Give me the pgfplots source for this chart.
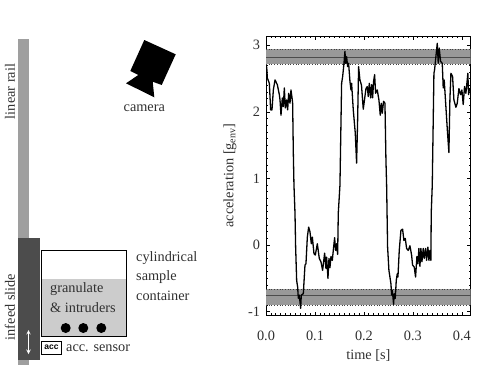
\documentclass[border=0pt]{standalone}
\usepackage{pgfplots}
\pgfplotsset{compat=1.18}
\usepackage{fontspec}
\setmainfont{Liberation Serif}
\setsansfont{Liberation Sans}
\definecolor{tx}{HTML}{303030}
\begin{document}
\fontsize{14.3}{16}\selectfont
\begin{tikzpicture}[x=1pt,y=1pt]
\path[use as bounding box] (0pt,0pt) rectangle (489pt,376pt);
% schematic on a full-canvas axis in pixel units
\begin{axis}[at={(0pt,0pt)},anchor=south west,width=489pt,height=376pt,scale only axis,
  xmin=0,xmax=489,ymin=0,ymax=376,y dir=reverse,hide axis,clip=false]
\fill[gray!75!white] (18,39) rectangle (29,365);
\fill[black!70] (18,238) rectangle (40,360);
\fill[black!20] (41,279) rectangle (126.5,336);
\draw[black,line width=0.9pt] (41,250.5) rectangle (126.5,336);
\fill (65.7,328) circle[radius=5];
\fill (83.3,328) circle[radius=5];
\fill (101.3,328) circle[radius=5];
\draw[white,line width=1pt,<->,>=stealth] (28.5,330) -- (28.5,354);
\draw[black,fill=white,line width=0.9pt] (41.5,341.5) rectangle (61.5,354);
\node[font=\sffamily\bfseries\fontsize{8.5}{9}\selectfont] at (51.5,347.5) {acc};
\fill (144.3,40) -- (175.7,54.3) -- (161.7,85) -- (152.7,81.7) -- (154.3,97.3) -- (126,83.3) -- (138.3,75) -- (130.3,71) -- cycle;
\node[text=tx] at (144.3,108.5) {camera};
\node[text=tx,anchor=west,inner sep=0] at (66,348) {acc. sensor};
\node[text=tx,anchor=west,inner sep=0] at (136,258.5) {cylindrical};
\node[text=tx,anchor=west,inner sep=0] at (136,277) {sample};
\node[text=tx,anchor=west,inner sep=0] at (136,295.5) {container};
\node[text=tx,anchor=west,inner sep=0] at (50,289.5) {granulate};
\node[text=tx,anchor=west,inner sep=0] at (50,308) {\& intruders};
\node[text=tx,rotate=90] at (10,307) {infeed slide};
\node[text=tx,rotate=90] at (10,91.5) {linear rail};
\end{axis}
% measurement axis
\begin{axis}[at={(266pt,61pt)},anchor=south west,width=204.7pt,height=279pt,scale only axis,
  xmin=0,xmax=0.418,ymin=-1.05,ymax=3.14,
  xtick={0,0.1,0.2,0.3,0.4},ytick={-1,0,1,2,3},
  xticklabels={0.0,0.1,0.2,0.3,0.4},
  minor x tick num=9,minor y tick num=9,
  tick align=inside,tick pos=both,
  major tick length=3.5pt,minor tick length=2pt,
  tick style={black,line width=0.7pt},
  axis line style={black,line width=0.9pt},
  tick label style={text=tx,font=\fontsize{14.3}{16}\selectfont},
  /pgf/number format/assume math mode=true,
  yticklabel style={/pgf/number format/assume math mode=true,xshift=-1pt},
  xticklabel style={yshift=-11pt},
  xlabel={time [s]},ylabel={acceleration [g$_{\mathrm{env}}$]},
  label style={text=tx,font=\fontsize{14.3}{16}\selectfont},
  xlabel style={yshift=1pt},ylabel style={yshift=2pt}]
\addplot[draw=none,fill=black!40,forget plot] coordinates {(0,2.72)(0.418,2.72)(0.418,2.94)(0,2.94)} -- cycle;
\addplot[draw=none,fill=black!40,forget plot] coordinates {(0,-0.90)(0.418,-0.90)(0.418,-0.66)(0,-0.66)} -- cycle;
\addplot[black!75,dotted,line width=0.7pt,forget plot] coordinates {(0,2.94)(0.418,2.94)};
\addplot[black!75,dotted,line width=0.7pt,forget plot] coordinates {(0,2.72)(0.418,2.72)};
\addplot[black!75,dotted,line width=0.7pt,forget plot] coordinates {(0,-0.66)(0.418,-0.66)};
\addplot[black!75,dotted,line width=0.7pt,forget plot] coordinates {(0,-0.90)(0.418,-0.90)};
\addplot[black!70,line width=1pt,forget plot] coordinates {(0,2.82)(0.418,2.82)};
\addplot[black!70,line width=1pt,forget plot] coordinates {(0,-0.76)(0.418,-0.76)};
\addplot[black,line width=1.3pt,line join=round] coordinates {
(.0014,2.68)(.0027,2.51)(.0068,2.43)(.0095,2.03)(.0122,2.03)(.015,2.33)(.0184,2.48)(.0231,2.41)(.0272,2.26)(.0286,2.18)(.0306,1.95)(.0333,2.21)(.0354,2.08)(.0374,2.36)(.0395,2.06)(.0422,2.18)(.0442,2.03)(.0463,2.28)(.049,2.13)(.051,2.33)(.0537,2.18)(.0544,2.13)(.0558,1.38)(.0571,.90)
(.0592,.48)(.0605,-.03)(.0626,-.53)(.0646,-.63)(.066,-.80)(.068,-.75)(.0707,-.95)(.0721,-.75)(.0762,-.73)(.0796,-.30)(.0816,-.28)(.0844,.12)(.0871,.27)(.0898,.20)(.0925,.02)(.0946,.12)(.098,-.13)(.1007,-.15)(.1048,.02)(.1088,-.2)(.1122,-.25)(.1156,-.38)(.1197,-.12)(.1224,-.35)(.1238,-.18)(.1265,-.50)(.1286,-.2)(.1306,-.34)(.1327,-.17)(.1354,-.23)(.1374,-.08)(.1401,.11)(.1422,-.08)(.1442,.02)(.1463,-.14)(.1476,.48)(.151,.90)
(.1544,2.43)(.1565,2.53)(.1592,2.73)(.1612,2.91)(.1626,2.73)(.1646,2.83)(.1667,2.68)(.1687,2.73)(.1714,2.46)(.1735,2.33)(.1748,2.43)(.1782,2.03)(.1823,1.68)(.185,1.23)(.1871,1.88)(.1891,2.68)(.1918,2.48)(.195,2.40)(.1986,2.04)(.2041,2.35)(.2068,2.38)(.2088,2.23)(.2109,2.43)(.2136,2.21)(.2156,2.41)(.2177,2.21)(.2197,2.46)(.2218,2.56)(.2238,2.28)(.2272,2.33)(.2306,2.18)(.2333,1.95)(.2354,2.13)(.2374,1.98)(.2401,2.16)(.2429,2.13)(.2435,1.88)(.2449,1.28)(.2463,.90)
(.2483,-.03)(.251,-.38)(.2551,-.58)(.2565,-.75)(.2578,-.68)(.2592,-.78)(.2605,-.89)(.2619,-.73)(.2639,-.80)(.266,-.53)(.268,-.43)(.2694,-.48)(.2721,-.08)(.2755,.22)(.2789,.24)(.2816,.07)(.2844,.10)(.2871,-.05)(.2905,-.08)(.2939,-.01)(.2973,-.15)(.2993,-.30)(.3027,-.33)(.3054,-.48)(.3082,-.17)(.3102,-.28)(.3122,-.05)(.3143,-.32)(.3163,-.05)(.3184,-.25)(.3211,-.05)(.3231,-.2)(.3259,-.05)(.3279,-.23)(.3306,-.03)(.3327,-.23)(.3347,-.08)(.3367,-.23)(.3374,.48)(.3395,.90)
(.3429,2.58)(.3442,2.63)(.3469,2.83)(.3497,3.03)(.3517,2.73)(.3537,2.96)(.3565,2.76)(.3599,2.73)(.3619,2.36)(.3639,2.48)(.3673,2.08)(.3707,1.68)(.3735,1.39)(.3755,2.18)(.3776,2.58)(.381,2.53)(.3837,2.18)(.3878,2.07)(.3905,2.13)(.3939,2.35)(.3973,2.26)(.4,2.33)(.4027,2.11)(.4054,2.38)(.4082,2.28)(.4102,2.43)(.4122,2.58)(.4136,2.26)(.4156,2.35)(.417,2.33)};
\end{axis}
\end{tikzpicture}
\end{document}
